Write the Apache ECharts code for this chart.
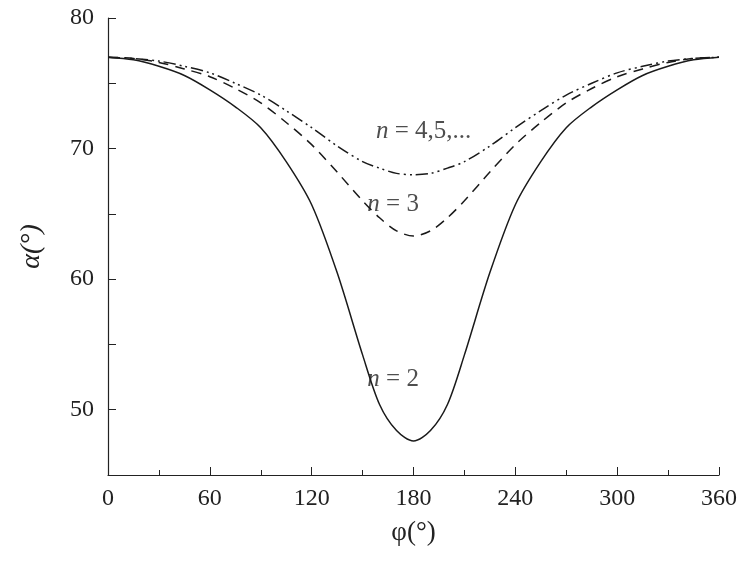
<!DOCTYPE html>
<html><head><meta charset="utf-8">
<script src="https://cdn.jsdelivr.net/npm/echarts@6/dist/echarts.min.js"></script>
<style>html,body{margin:0;background:#fff}#c{width:742px;height:571px}</style>
</head><body><div id="c"></div>
<script>
const phi = [0,15,30,45,60,75,90,105,120,135,150,160,170,180,190,200,210,225,240,255,270,285,300,315,330,345,360];
const half2 = [77,76.8,76.3,75.6,74.5,73.2,71.6,69.0,65.7,60.5,54.2,50.4,48.4,47.6];
const half3 = [77,76.9,76.6,76.1,75.5,74.6,73.5,72.0,70.3,68.2,66.0,64.7,63.7,63.3];
const half4 = [77,76.9,76.7,76.3,75.8,75.0,74.1,72.9,71.6,70.2,69.0,68.5,68.1,68.0];
const mirror = h => h.concat(h.slice(0,-1).reverse());
const n2 = mirror(half2), n3 = mirror(half3), n4 = mirror(half4);
const yTicks = [50,60,70,80];
const labelNames = ['n = 2','n = 3','n = 4,5,...'];
const labelX = [168,168,186];
const labelY = [52.3,65.7,71.3];
const font = 'Liberation Serif';
const mk = (d, type) => ({type:'line', data: phi.map((p,i)=>[p,d[i]]), symbol:'none', smooth:0.3,
  lineStyle:{color:'#1a1a1a', width:1.5, type}});
const labelSeries = {type:'scatter', symbolSize:1, itemStyle:{color:'rgba(0,0,0,0)'}, silent:true,
  data: labelNames.map((n,i)=>({value:[labelX[i],labelY[i]], name:n})),
  label:{show:true, position:'inside', formatter: p => '{i|n}{t|' + p.name.slice(1) + '}', rich:{
    i:{fontFamily:font,fontStyle:'italic',fontSize:25,color:'#222'},
    t:{fontFamily:font,fontSize:25,color:'#222'}}}};
const chart = echarts.init(document.getElementById('c'));
chart.setOption({
  animation:false,
  grid:{left:108,right:23,top:18,bottom:96},
  xAxis:{type:'value',min:0,max:360,interval:60,name:'φ(°)',nameLocation:'middle',nameGap:44,
    nameTextStyle:{fontFamily:font,fontSize:27,color:'#222'},
    axisLine:{lineStyle:{color:'#222',width:1.2}},axisTick:{inside:true,length:8,lineStyle:{color:'#222'}},
    minorTick:{show:true,splitNumber:2,length:5,lineStyle:{color:'#222'}},
    axisLabel:{fontFamily:font,fontSize:24,color:'#222',margin:12},splitLine:{show:false}},
  yAxis:{type:'value',min:45,max:80,interval:5,name:'α(°)',nameLocation:'middle',nameGap:62,nameRotate:90,
    nameTextStyle:{fontFamily:font,fontSize:28,color:'#222',fontStyle:'italic'},
    axisLine:{show:true,lineStyle:{color:'#222',width:1.2}},axisTick:{show:true,inside:true,length:8,lineStyle:{color:'#222'}},
    axisLabel:{fontFamily:font,fontSize:24,color:'#222',margin:14,formatter:v=>yTicks.includes(v)?v:''},splitLine:{show:false}},
  series:[mk(n2,'solid'), mk(n3,[10,7]), mk(n4,[12,4,2,4,2,4]), labelSeries]
});
</script></body></html>
